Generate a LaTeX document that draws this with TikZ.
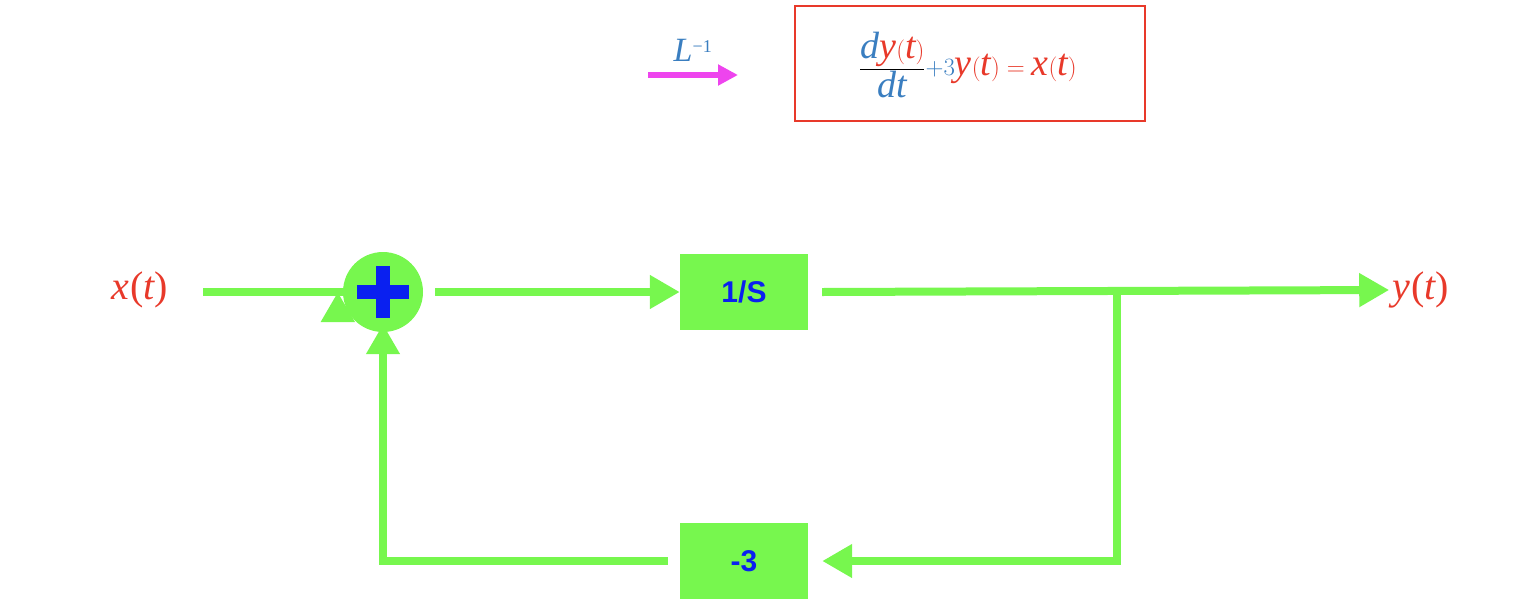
\documentclass[tikz,border=0pt]{standalone}
\usepackage{fontspec}
\setmainfont{Liberation Serif}
\setsansfont{Liberation Sans}
\usetikzlibrary{arrows.meta}
\definecolor{gr}{HTML}{77F74E}
\definecolor{rd}{HTML}{E8392A}
\definecolor{bl}{HTML}{3A7EC0}
\definecolor{db}{HTML}{0A20F0}
\definecolor{mg}{HTML}{EE44EE}
\tikzset{
 flow/.style={draw=gr,line width=8pt,-{Triangle[length=30pt,width=32pt]}},
 wire/.style={draw=gr,line width=8pt},
 blk/.style={fill=gr,minimum width=128pt,minimum height=76pt,inner sep=0pt,font=\sffamily\bfseries\fontsize{30}{30}\selectfont,text=db},
 sig/.style={text=rd,font=\itshape\fontsize{40}{40}\selectfont}
}
\begin{document}
\begin{tikzpicture}[x=1pt,y=-1pt]
\useasboundingbox (0,0) rectangle (1540,614);
\node[sig] (x) at (140,290) {x\kern1pt\upshape(\itshape t\upshape)};
\node[sig] (y) at (1421,290) {y\kern1pt\upshape(\itshape t\upshape)};
\node[circle,fill=gr,minimum size=80pt,inner sep=0pt] (sum) at (383,292) {};
\fill[db] (376,266) rectangle (390,318);
\fill[db] (357,285) rectangle (409,299);
\node[blk] (int) at (744,292) {1/S};
\node[blk] (gain) at (744,561) {-3};
\coordinate (xs) at (203,292);
\coordinate (br) at (1117,292);
\coordinate (bc) at (1117,561);
\coordinate (lc) at (383,561);
\draw[flow] (xs) -- (sum.west) ++(-5,0);
\draw[flow] (435,292) -- (int.west);
\draw[flow] (int.east)++(14,0) -- (y.west);
\draw[wire] (br) -- (bc) -- ++(4,0);
\draw[flow] (bc) -- ([xshift=14pt]gain.east);
\draw[flow] ([xshift=-12pt]gain.west) -- (lc) -- ([yshift=8pt]sum.south);
% equation
\node[draw=rd,line width=1.2pt,minimum width=350pt,minimum height=115pt,inner sep=0pt] (eq) at (970,63.5) {};
\node[font=\fontsize{38}{38}\selectfont,anchor=center] (eqt) at (968,65) {$\displaystyle\frac{\textcolor{bl}{\mathit{d}}\textcolor{rd}{\mathit{y}(\mathit{t})}}{\textcolor{bl}{\mathit{dt}}}\textcolor{bl}{+3}\textcolor{rd}{\mathit{y}(\mathit{t})=\mathit{x}(\mathit{t})}$};
\coordinate (ms) at (648,75);
\coordinate (me) at (738,75);
\draw[draw=mg,line width=6pt,-{Triangle[length=20pt,width=20pt]}] (ms) -- (me);
\node[text=bl,font=\fontsize{34}{34}\selectfont] (L) at (693,50) {\itshape L\textsuperscript{\upshape\fontsize{18}{18}\selectfont −1}};
\end{tikzpicture}
\end{document}
